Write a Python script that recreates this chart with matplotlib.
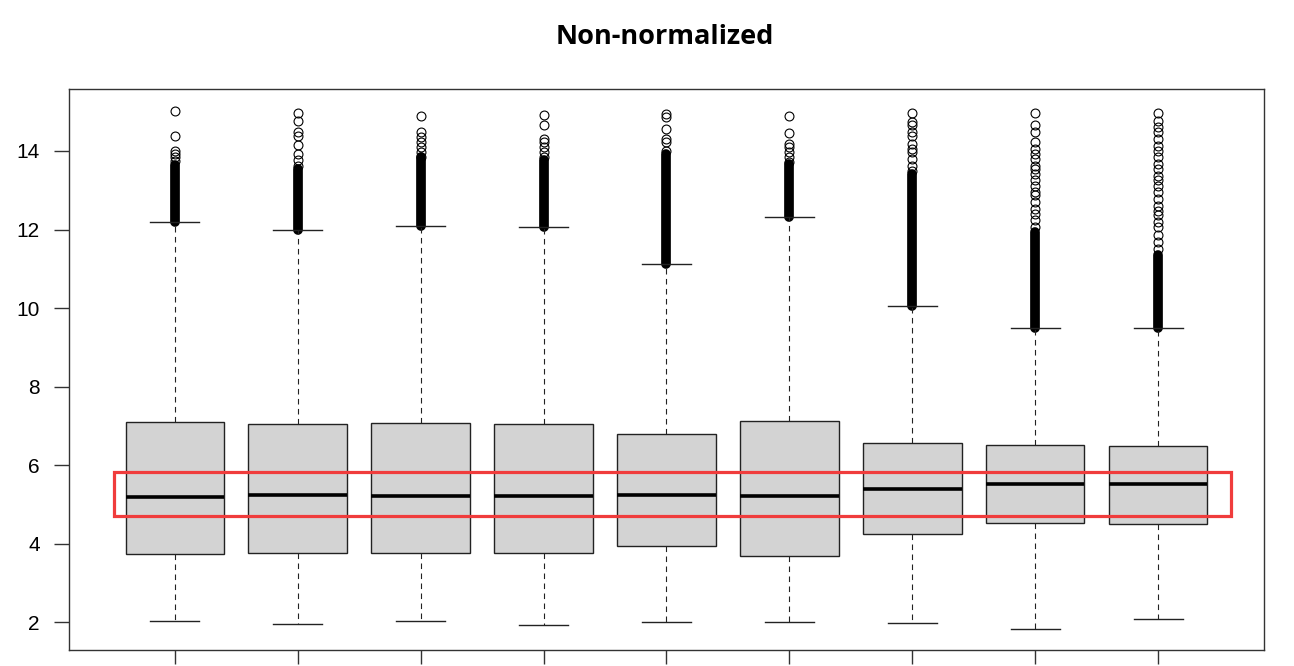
import numpy as np
import matplotlib
matplotlib.use("Agg")
import matplotlib.pyplot as plt
from matplotlib.patches import Rectangle

plt.rcParams['font.family'] = ['Liberation Sans', 'DejaVu Sans']

title = "Non-normalized"
positions = [1, 2, 3, 4, 5, 6, 7, 8, 9]

# box statistics
whisker_low = [2.03, 1.95, 2.03, 1.92, 2.00, 2.00, 1.97, 1.82, 2.08]
q1 = [3.73, 3.76, 3.76, 3.76, 3.93, 3.68, 4.24, 4.52, 4.49]
median = [5.18, 5.23, 5.20, 5.20, 5.23, 5.20, 5.38, 5.51, 5.51]
q3 = [7.09, 7.04, 7.06, 7.04, 6.78, 7.11, 6.55, 6.50, 6.48]
whisker_high = [12.19, 11.99, 12.08, 12.06, 11.11, 12.33, 10.04, 9.50, 9.50]

# individually visible outliers
outliers = [
    [15.03, 14.37, 14.00, 13.92, 13.85, 13.75],
    [14.98, 14.77, 14.48, 14.39, 14.16, 13.93, 13.76, 13.62],
    [14.90, 14.48, 14.35, 14.22, 14.10, 13.97, 13.84],
    [14.92, 14.66, 14.31, 14.22, 14.10, 13.97, 13.84],
    [14.94, 14.86, 14.56, 14.31, 14.22, 14.01],
    [14.88, 14.45, 14.18, 14.10, 13.97, 13.84, 13.72],
    [14.96, 14.73, 14.65, 14.48, 14.39, 14.18, 14.05, 13.97, 13.80, 13.63, 13.50],
    [14.98, 14.65, 14.48, 14.22, 14.05, 13.93, 13.80, 13.63, 13.54, 13.42,
     13.25, 13.12, 12.95, 12.87, 12.70, 12.53, 12.40, 12.23, 12.06],
    [14.98, 14.77, 14.60, 14.48, 14.31, 14.14, 14.01, 13.84, 13.67, 13.54,
     13.37, 13.25, 13.12, 12.95, 12.78, 12.61, 12.48, 12.36, 12.19, 12.06,
     11.85, 11.68, 11.51],
]

# ranges where outliers overlap into a solid column
dense_low = whisker_high
dense_high = [13.65, 13.54, 13.84, 13.76, 13.93, 13.67, 13.42, 11.93, 11.34]

# red highlight box around the medians
highlight_x = (0.51, 9.59)
highlight_y = (4.69, 5.83)

fig = plt.figure(figsize=(12.94, 6.66), dpi=100)
ax = fig.add_axes([0.0533, 0.024, 0.9235, 0.8424])

stats = []
for i in range(len(positions)):
    stats.append({
        'whislo': whisker_low[i], 'q1': q1[i], 'med': median[i],
        'q3': q3[i], 'whishi': whisker_high[i], 'fliers': outliers[i],
    })

for i, pos in enumerate(positions):
    ax.plot([pos, pos], [dense_low[i], dense_high[i]], color='black',
            lw=7.0, solid_capstyle='round', zorder=2)

ax.bxp(stats, positions=positions, widths=0.8, capwidths=0.4, patch_artist=True,
       boxprops=dict(facecolor='#d3d3d3', edgecolor='#222222', linewidth=1.0),
       medianprops=dict(color='black', linewidth=2.6, solid_capstyle='butt'),
       whiskerprops=dict(color='#222222', linewidth=0.8, linestyle=(0, (5, 4))),
       capprops=dict(color='#222222', linewidth=1.0),
       flierprops=dict(marker='o', markerfacecolor='none', markeredgecolor='black',
                       markersize=6.4, markeredgewidth=0.8))

ax.add_patch(Rectangle((highlight_x[0], highlight_y[0]),
                       highlight_x[1] - highlight_x[0], highlight_y[1] - highlight_y[0],
                       fill=False, edgecolor='#f03c3c', linewidth=2.3, zorder=5))

ax.set_xlim(0.14, 9.86)
ax.set_ylim(1.287, 15.58)
ax.set_yticks([2, 4, 6, 8, 10, 12, 14])
ax.set_yticklabels(['2', '4', '6', '8', '10', '12', '14'], fontsize=15)
ax.set_xticks(positions)
ax.set_xticklabels([''] * len(positions))
ax.tick_params(axis='y', length=11, width=1.0, color='#333333', pad=10)
ax.tick_params(axis='x', length=10, width=1.0, color='#333333')
for sp in ax.spines.values():
    sp.set_color('#333333')
    sp.set_linewidth(1.0)

fig.text(0.514, 0.944, title, ha='center', va='center', fontsize=19.5,
         fontweight='bold', family=['Open Sans', 'DejaVu Sans'])

fig.savefig('out.png', dpi=100)
